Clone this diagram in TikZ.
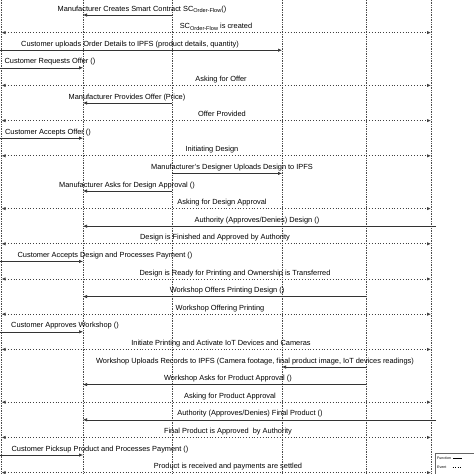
\documentclass[tikz,border=0pt]{standalone}
\usepackage{fontspec}
\setmainfont{Liberation Sans}
\usetikzlibrary{arrows.meta}
\newcommand{\scsub}{SC\raisebox{-1.6pt}{\fontsize{5.6}{6}\selectfont Order-Flow}}
\tikzset{
  life/.style={densely dotted,line width=.7pt,black!70},
  func/.style={-{Latex[length=4pt,width=3.4pt]},line width=.6pt,black!80},
  event/.style={{Latex[length=4pt,width=3.4pt]}-{Latex[length=4pt,width=3.4pt]},dotted,line width=.8pt,black!75},
  lbl/.style={font=\fontsize{7.4}{8}\selectfont,inner sep=0pt,anchor=base,yshift=4pt}
}
\begin{document}
\begin{tikzpicture}[x=1pt,y=-1pt]
\useasboundingbox(0,0)rectangle(474,474);
%lifelines
\coordinate(cust)at(1.5,0);
\coordinate(sc)at(83,0);
\coordinate(manu)at(172,0);
\coordinate(ipfs)at(282,0);
\coordinate(work)at(366,0);
\coordinate(auth)at(431,0);
\coordinate(authf)at(436,0); %authority calls start a bit further right
\foreach \l in {cust,sc,manu,ipfs,work,auth}
  \draw[life](\l)--++(0,476);
%message rows
\foreach \i in {1,...,27}
  \coordinate(r\i)at(0,{15+(\i-1)*17.6});
%messages
\draw[func](manu|-r1)--(sc|-r1);
\node[lbl](t1)at([xshift=142pt]r1){Manufacturer Creates Smart Contract \scsub()};
\draw[event](cust|-r2)--(auth|-r2);
\node[lbl](t2)at([xshift=216pt]r2){\scsub\ is created};
\draw[func](0,0|-r3)--(ipfs|-r3);
\node[lbl](t3)at([xshift=130pt]r3){Customer uploads Order Details to IPFS (product details, quantity)};
\draw[func](0,0|-r4)--(sc|-r4);
\node[lbl](t4)at([xshift=50pt]r4){Customer Requests Offer ()};
\draw[event](cust|-r5)--(auth|-r5);
\node[lbl](t5)at([xshift=221pt]r5){Asking for Offer};
\draw[func](manu|-r6)--(sc|-r6);
\node[lbl](t6)at([xshift=127pt]r6){Manufacturer Provides Offer (Price)};
\draw[event](cust|-r7)--(auth|-r7);
\node[lbl](t7)at([xshift=222pt]r7){Offer Provided};
\draw[func](0,0|-r8)--(sc|-r8);
\node[lbl](t8)at([xshift=48pt]r8){Customer Accepts Offer ()};
\draw[event](cust|-r9)--(auth|-r9);
\node[lbl](t9)at([xshift=212pt]r9){Initiating Design};
\draw[func](manu|-r10)--(ipfs|-r10);
\node[lbl](t10)at([xshift=232pt]r10){Manufacturer's Designer Uploads Design to IPFS};
\draw[func](manu|-r11)--(sc|-r11);
\node[lbl](t11)at([xshift=127pt]r11){Manufacturer Asks for Design Approval ()};
\draw[event](cust|-r12)--(auth|-r12);
\node[lbl](t12)at([xshift=222pt]r12){Asking for Design Approval};
\draw[func](authf|-r13)--(sc|-r13);
\node[lbl](t13)at([xshift=257pt]r13){Authority (Approves/Denies) Design ()};
\draw[event](cust|-r14)--(auth|-r14);
\node[lbl](t14)at([xshift=215pt]r14){Design is Finished and Approved by Authority};
\draw[func](0,0|-r15)--(sc|-r15);
\node[lbl](t15)at([xshift=105pt]r15){Customer Accepts Design and Processes Payment ()};
\draw[event](cust|-r16)--(auth|-r16);
\node[lbl](t16)at([xshift=235pt]r16){Design is Ready for Printing and Ownership is Transferred};
\draw[func](work|-r17)--(sc|-r17);
\node[lbl](t17)at([xshift=227pt]r17){Workshop Offers Printing Design ()};
\draw[event](cust|-r18)--(auth|-r18);
\node[lbl](t18)at([xshift=220pt]r18){Workshop Offering Printing};
\draw[func](0,0|-r19)--(sc|-r19);
\node[lbl](t19)at([xshift=65pt]r19){Customer Approves Workshop ()};
\draw[event](cust|-r20)--(auth|-r20);
\node[lbl](t20)at([xshift=221pt]r20){Initiate Printing and Activate IoT Devices and Cameras};
\draw[func](work|-r21)--(ipfs|-r21);
\node[lbl](t21)at([xshift=255pt]r21){Workshop Uploads Records to IPFS (Camera footage, final product image, IoT devices readings)};
\draw[func](work|-r22)--(sc|-r22);
\node[lbl](t22)at([xshift=228pt]r22){Workshop Asks for Product Approval ()};
\draw[event](cust|-r23)--(auth|-r23);
\node[lbl](t23)at([xshift=230pt]r23){Asking for Product Approval};
\draw[func](authf|-r24)--(sc|-r24);
\node[lbl](t24)at([xshift=250pt]r24){Authority (Approves/Denies) Final Product ()};
\draw[event](cust|-r25)--(auth|-r25);
\node[lbl](t25)at([xshift=228pt]r25){Final Product is Approved\ \ by Authority};
\draw[func](0,0|-r26)--(sc|-r26);
\node[lbl](t26)at([xshift=100pt]r26){Customer Picksup Product and Processes Payment ()};
\draw[event](cust|-r27)--(auth|-r27);
\node[lbl](t27)at([xshift=228pt]r27){Product is received and payments are settled};
%legend
\draw[fill=white,draw=black!60,line width=.4pt](435,453)rectangle(480,480);
\node[font=\fontsize{3.6}{4}\selectfont,inner sep=0pt,anchor=west](lfun)at(437,458){Function};
\draw[line width=.4pt]([xshift=2pt]lfun.east)--++(9,0);
\node[font=\fontsize{3.6}{4}\selectfont,inner sep=0pt,anchor=west](lev)at(437,467){Event};
\draw[dotted,line width=.5pt]([xshift=6pt]lev.east)--++(8,0);
\end{tikzpicture}
\end{document}
